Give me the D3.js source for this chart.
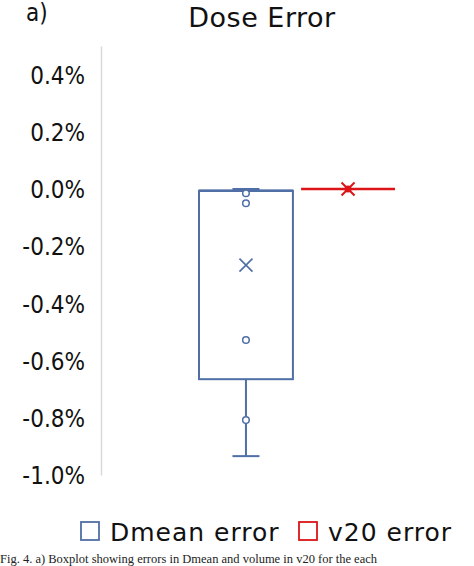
<!DOCTYPE html>
<html>
<head>
<meta charset="utf-8">
<script src="https://cdn.jsdelivr.net/npm/d3@7"></script>
<style>
  html, body { margin: 0; padding: 0; background: #fff; }
  svg { display: block; }
</style>
</head>
<body>
<div id="chart"></div>
<script>
(function() {
  'use strict';

  // data, in percent
  var series = ['Dmean error', 'v20 error'];
  var colors = ['#4f6fa6', '#dc1418'];
  var q1 = [-0.665, 0];
  var q3 = [-0.006, 0];
  var medians = [-0.006, 0];
  var whiskerLow = [-0.934, 0];
  var whiskerHigh = [0.0, 0];
  var means = [-0.266, 0];
  var innerPoints = [[-0.015, -0.05, -0.528, -0.808], []];
  var tickValues = [0.4, 0.2, 0.0, -0.2, -0.4, -0.6, -0.8, -1.0];

  var width = 474, height = 566;
  var font = '"DejaVu Sans Condensed", "DejaVu Sans", sans-serif';
  var wideFont = '"DejaVu Sans", sans-serif';

  var svg = d3.select('#chart')
    .append('svg')
      .attr('width', width)
      .attr('height', height);

  svg.append('rect')
    .attr('width', width)
    .attr('height', height)
    .attr('fill', '#fff');

  var y = d3.scaleLinear().domain([-1.0, 0.5]).range([475, 46]);
  var x = d3.scaleBand().domain(series).range([199, 395]).paddingInner(0.08);

  // panel label + title
  svg.append('text')
    .attr('x', 26)
    .attr('y', 21)
    .style('font-family', font)
    .style('font-size', '24px')
    .attr('fill', '#111')
    .text('a)');

  svg.append('text')
    .attr('x', 262)
    .attr('y', 27)
    .attr('text-anchor', 'middle')
    .style('font-family', wideFont)
    .style('font-size', '27px')
    .style('letter-spacing', '0.5px')
    .attr('fill', '#111')
    .text('Dose Error');

  // y axis (plain hyphen for the minus sign, like the original)
  var fmt = d3.format('.1%');
  var axis = svg.append('g')
    .attr('transform', 'translate(101,0)')
    .call(d3.axisLeft(y)
      .tickValues(tickValues)
      .tickSize(0)
      .tickPadding(16)
      .tickFormat(function(d) { return fmt(d / 100).replace('\u2212', '-'); }));
  axis.select('.domain').attr('stroke', '#d9d9d9').attr('stroke-width', 1.5);
  axis.selectAll('text')
    .style('font-family', font)
    .style('font-size', '24px')
    .attr('fill', '#111')
    .attr('dy', '0.36em');

  var boxes = svg.selectAll('g.box')
    .data(series)
    .enter().append('g')
      .attr('class', 'box');

  boxes.each(function(name, i) {
    var g = d3.select(this);
    var c = colors[i];
    var x0 = x(name), bw = x.bandwidth(), cx = x0 + bw / 2;
    var capW = 27;

    if (q1[i] !== q3[i]) {
      // whiskers
      g.append('line')
        .attr('x1', cx).attr('x2', cx)
        .attr('y1', y(q1[i])).attr('y2', y(whiskerLow[i]))
        .attr('stroke', c).attr('stroke-width', 2);
      g.append('line')
        .attr('x1', cx).attr('x2', cx)
        .attr('y1', y(q3[i])).attr('y2', y(whiskerHigh[i]))
        .attr('stroke', c).attr('stroke-width', 2);
      [whiskerLow[i], whiskerHigh[i]].forEach(function(v) {
        g.append('line')
          .attr('x1', cx - capW / 2).attr('x2', cx + capW / 2)
          .attr('y1', y(v)).attr('y2', y(v))
          .attr('stroke', c).attr('stroke-width', 2);
      });
      g.append('rect')
        .attr('x', x0)
        .attr('y', y(q3[i]))
        .attr('width', bw)
        .attr('height', y(q1[i]) - y(q3[i]))
        .attr('fill', 'none')
        .attr('stroke', c)
        .attr('stroke-width', 2);
      g.append('line')
        .attr('x1', x0).attr('x2', x0 + bw)
        .attr('y1', y(medians[i])).attr('y2', y(medians[i]))
        .attr('stroke', c).attr('stroke-width', 2.5);
    } else {
      // collapsed box: a flat line
      g.append('line')
        .attr('x1', x0).attr('x2', x0 + bw)
        .attr('y1', y(medians[i])).attr('y2', y(medians[i]))
        .attr('stroke', c).attr('stroke-width', 2.5);
      g.append('circle')
        .attr('cx', cx).attr('cy', y(means[i]))
        .attr('r', 3.5)
        .attr('fill', c);
    }

    g.selectAll('circle.pt')
      .data(innerPoints[i])
      .enter().append('circle')
        .attr('class', 'pt')
        .attr('cx', cx)
        .attr('cy', function(d) { return y(d); })
        .attr('r', 3.3)
        .attr('fill', '#fff')
        .attr('stroke', c)
        .attr('stroke-width', 1.5);

    // mean marker
    var s = 6.5;
    var my = y(means[i]);
    g.append('path')
      .attr('d', 'M' + (cx - s) + ',' + (my - s) + 'L' + (cx + s) + ',' + (my + s) +
                 'M' + (cx - s) + ',' + (my + s) + 'L' + (cx + s) + ',' + (my - s))
      .attr('stroke', c)
      .attr('stroke-width', i === 0 ? 1.6 : 2)
      .attr('fill', 'none');
  });

  // legend
  var legend = svg.append('g');
  var legendX = [81, 299];
  series.forEach(function(name, i) {
    legend.append('rect')
      .attr('x', legendX[i])
      .attr('y', 522)
      .attr('width', 18)
      .attr('height', 18)
      .attr('fill', '#fff')
      .attr('stroke', colors[i])
      .attr('stroke-width', 1.8);
    legend.append('text')
      .attr('x', legendX[i] + 29)
      .attr('y', 541)
      .style('font-family', wideFont)
      .style('font-size', '25px')
      .style('letter-spacing', '1px')
      .attr('fill', '#111')
      .text(name);
  });

  // figure caption along the bottom edge
  svg.append('text')
    .attr('x', 0)
    .attr('y', 563)
    .style('font-family', '"Liberation Serif", serif')
    .style('font-size', '12.5px')
    .attr('fill', '#222')
    .text('Fig. 4. a) Boxplot showing errors in Dmean and volume in v20 for the each');
})();
</script>
</body>
</html>
